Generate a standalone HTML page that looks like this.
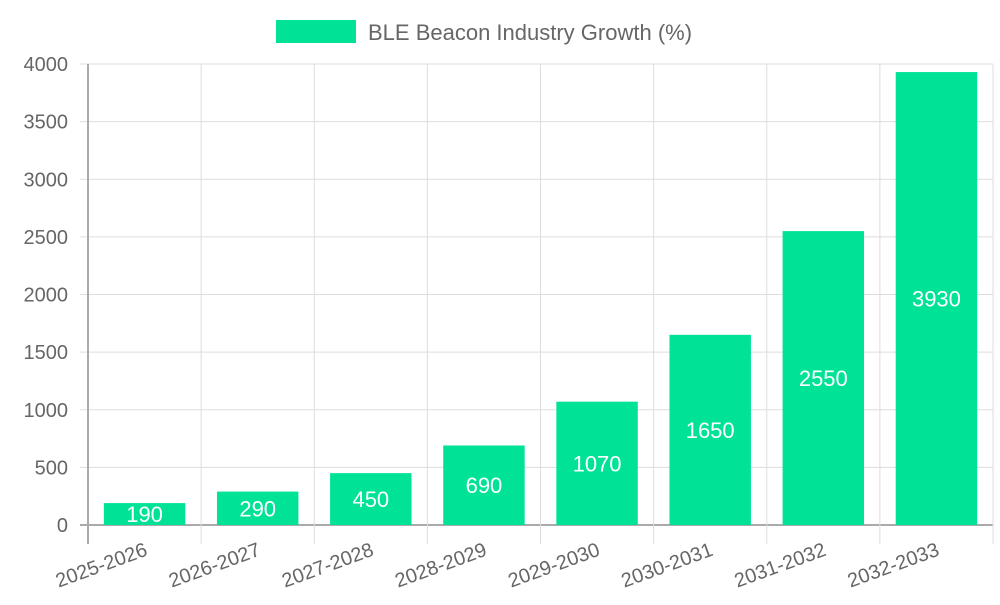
<!DOCTYPE html>
<html><head><meta charset="utf-8"><style>
body{margin:0;background:#fff;font-family:"Liberation Sans",sans-serif}
</style></head><body>
<svg id="c" width="1000" height="600" xmlns="http://www.w3.org/2000/svg" font-family="Liberation Sans, sans-serif">
<g>
<rect x="276" y="20" width="80" height="23" fill="#00e396"/>
<text x="368" y="40" font-size="22" fill="#666">BLE Beacon Industry Growth (%)</text>
</g>
</svg>
<script>
const categories=["2025-2026","2026-2027","2027-2028","2028-2029","2029-2030","2030-2031","2031-2032","2032-2033"];
const values=[190,290,450,690,1070,1650,2550,3930];
const yTicks=[0,500,1000,1500,2000,2500,3000,3500,4000];
const svg=document.getElementById('c');
const NS='http://www.w3.org/2000/svg';
const L=88,R=993,T=64,B=525,yMax=4000;
const cw=(R-L)/categories.length;
const y=v=>B-(v/yMax)*(B-T);
const x=i=>L+i*cw;
function mk(t,a,p){const e=document.createElementNS(NS,t);for(const k in a)e.setAttribute(k,a[k]);(p||svg).appendChild(e);return e;}
const grid=mk('g',{});


yTicks.forEach(v=>{
 const ln=mk('line',{x1:L-8,x2:R,y1:y(v),y2:y(v),stroke:v===0?'#aaa':'#ddd','stroke-width':v===0?2:1},grid);
 
 
 const t=mk('text',{x:L-20,y:y(v)+7,'text-anchor':'end','font-size':20,fill:'#666'});
 t.textContent=v;
 
 
});
for(let i=0;i<=categories.length;i++){
 const ln=mk('line',{x1:x(i),x2:x(i),y1:T,y2:B+19,stroke:i===0?'#aaa':'#ddd','stroke-width':i===0?2:1},grid);
 
 
}
categories.forEach((c,i)=>{
 const bx=x(i)+cw*0.14,bw=cw*0.72;
 const r=mk('rect',{x:bx,y:y(values[i]),width:bw,height:B-y(values[i]),fill:'#00e396'});
 
 
 const vt=mk('text',{x:bx+bw/2,y:(y(values[i])+B)/2+8,'text-anchor':'middle','font-size':22,fill:'#fff'});
 vt.textContent=values[i];
 
 
 const cx=x(i)+cw/2;
 const lt=mk('text',{x:cx+4,y:B+30,'text-anchor':'end','font-size':20,fill:'#666',transform:`rotate(-20 ${cx+4} ${B+30})`});
 lt.textContent=c;
 
 
});
</script>
</body></html>
